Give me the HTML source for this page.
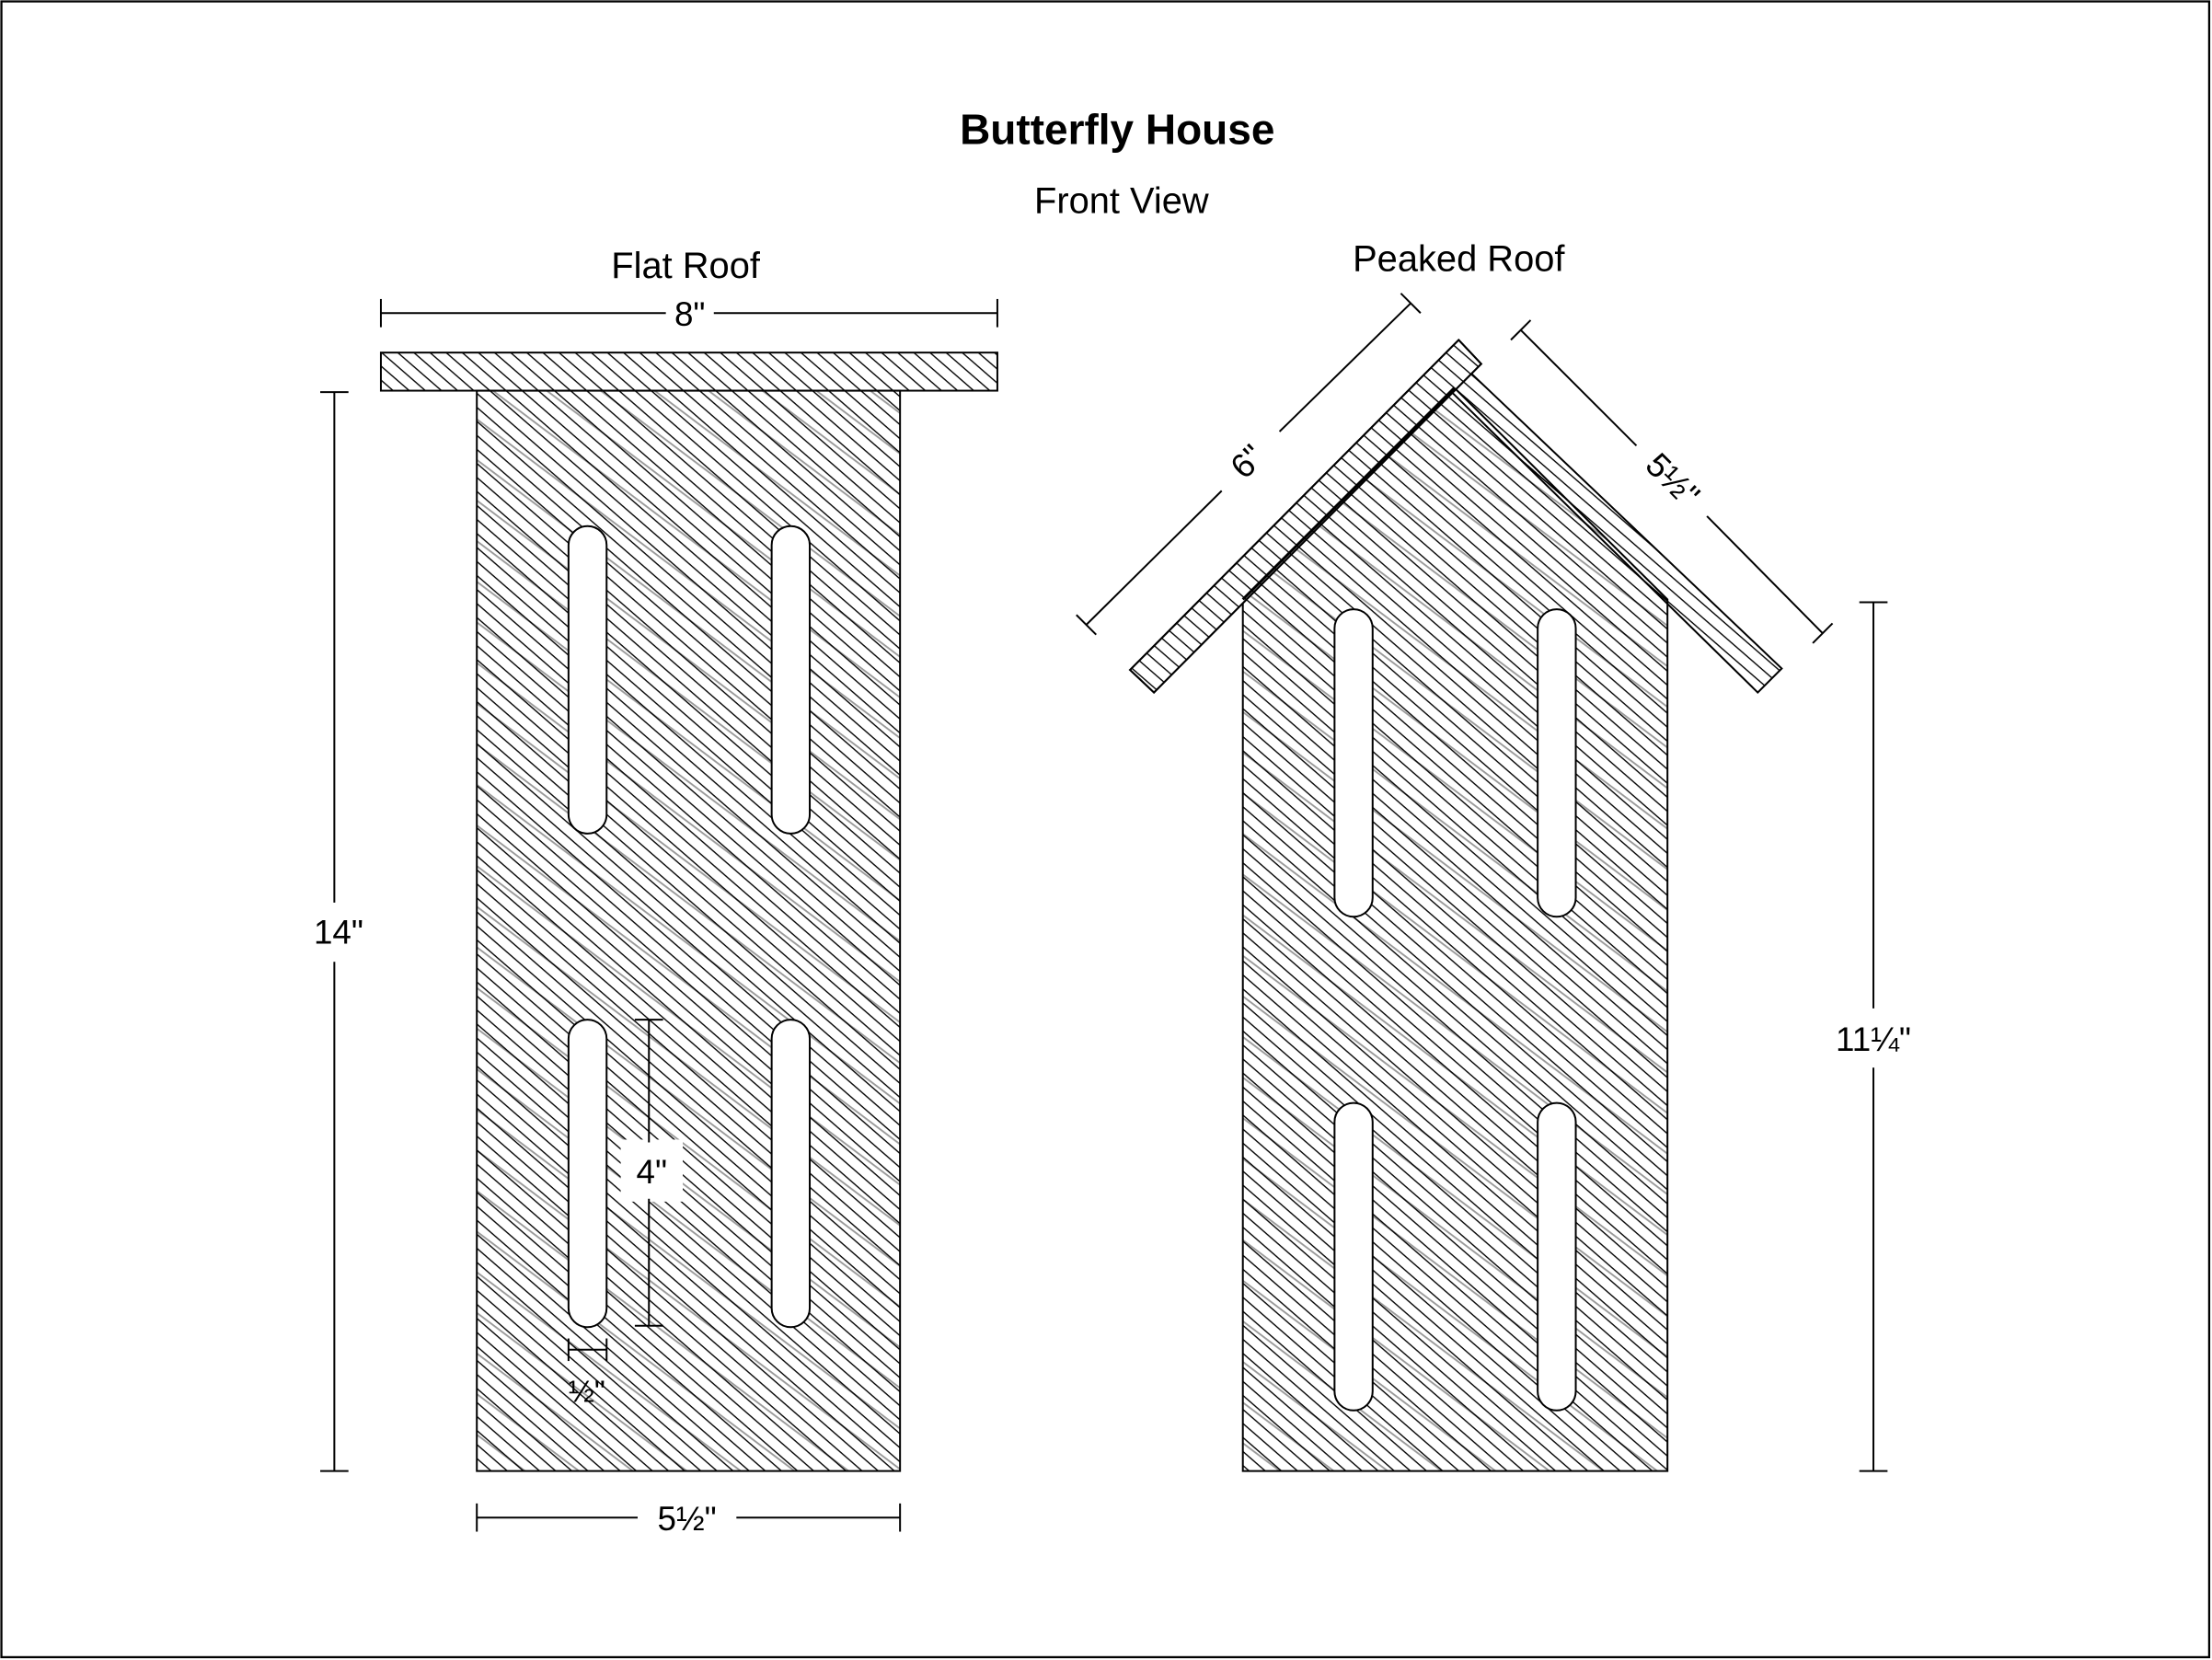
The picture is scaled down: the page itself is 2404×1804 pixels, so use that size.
<!DOCTYPE html>
<html><head><style>
html,body{margin:0;padding:0;background:#fff;}
svg{display:block;}
text{font-family:"Liberation Sans",sans-serif;fill:#000;}
</style></head><body>
<svg width="2404" height="1804" viewBox="0 0 1568 1177" preserveAspectRatio="none" xmlns="http://www.w3.org/2000/svg">
<defs>
<pattern id="h" width="7.5" height="7.5" patternUnits="userSpaceOnUse" patternTransform="rotate(41)">
<line x1="0" y1="3.7" x2="7.5" y2="3.7" stroke="#000" stroke-width="0.9"/>
</pattern>
<pattern id="h2" width="23" height="23" patternUnits="userSpaceOnUse" patternTransform="rotate(37)">
<line x1="0" y1="11" x2="23" y2="11" stroke="#000" stroke-width="1.2"/>
</pattern>
</defs>
<rect x="1" y="1" width="1565" height="1174" fill="#fff" stroke="#000" stroke-width="1.5"/>
<text x="792" y="102" font-size="30" font-weight="bold" text-anchor="middle">Butterfly House</text>
<text x="795" y="151" font-size="26" text-anchor="middle">Front View</text>
<text x="486" y="197" font-size="26" text-anchor="middle">Flat Roof</text>
<text x="1034" y="192" font-size="26" text-anchor="middle">Peaked Roof</text>

<g stroke="#000" stroke-width="1.3" fill="none">
<rect x="270" y="250" width="437" height="27" fill="url(#h)"/>
<rect x="338" y="277" width="300" height="766" fill="url(#h)"/>
<rect x="338" y="277" width="300" height="766" fill="url(#h2)" stroke="none" opacity="0.4"/>
<g fill="#fff">
<rect x="403" y="373" width="27" height="218" rx="13.5"/>
<rect x="547" y="373" width="27" height="218" rx="13.5"/>
<rect x="403" y="723" width="27" height="218" rx="13.5"/>
<rect x="547" y="723" width="27" height="218" rx="13.5"/>
</g>
<line x1="270" y1="222" x2="472" y2="222"/><line x1="506" y1="222" x2="707" y2="222"/>
<line x1="270" y1="212" x2="270" y2="232"/><line x1="707" y1="212" x2="707" y2="232"/>
<line x1="237" y1="278" x2="237" y2="640"/><line x1="237" y1="682" x2="237" y2="1043"/>
<line x1="227" y1="278" x2="247" y2="278"/><line x1="227" y1="1043" x2="247" y2="1043"/>
<line x1="338" y1="1076" x2="452" y2="1076"/><line x1="522" y1="1076" x2="638" y2="1076"/>
<line x1="338" y1="1066" x2="338" y2="1086"/><line x1="638" y1="1066" x2="638" y2="1086"/>
<rect x="440" y="808" width="44" height="44" fill="#fff" stroke="none"/>
<line x1="460" y1="723" x2="460" y2="810"/><line x1="460" y1="850" x2="460" y2="940"/>
<line x1="450" y1="723" x2="470" y2="723"/><line x1="450" y1="940" x2="470" y2="940"/>
<line x1="403" y1="957" x2="430" y2="957"/><line x1="403" y1="949" x2="403" y2="965"/><line x1="430" y1="949" x2="430" y2="965"/>

<polygon points="881,425 1031,275 1182,425 1182,1043 881,1043" fill="url(#h)"/>
<polygon points="881,425 1031,275 1182,425 1182,1043 881,1043" fill="url(#h2)" stroke="none" opacity="0.4"/>
<polygon points="1040,262 1263,474 1246,491 1028,277" fill="url(#h)"/>
<polygon points="801,475 1034,241 1050,258 818,491" fill="#fff"/>
<polygon points="801,475 1034,241 1050,258 818,491" fill="url(#h)"/>
<line x1="1031" y1="275" x2="881" y2="425" stroke-width="2"/>
<g fill="#fff">
<rect x="946" y="432" width="27" height="218" rx="13.5"/>
<rect x="1090" y="432" width="27" height="218" rx="13.5"/>
<rect x="946" y="782" width="27" height="218" rx="13.5"/>
<rect x="1090" y="782" width="27" height="218" rx="13.5"/>
</g>
<line x1="770" y1="443" x2="866" y2="348"/><line x1="907" y1="306" x2="1000" y2="215"/>
<line x1="763" y1="436" x2="777" y2="450"/><line x1="993" y1="208" x2="1007" y2="222"/>
<line x1="1078" y1="234" x2="1160" y2="316"/><line x1="1210" y1="366" x2="1292" y2="449"/>
<line x1="1071" y1="241" x2="1085" y2="227"/><line x1="1285" y1="456" x2="1299" y2="442"/>
<line x1="1328" y1="427" x2="1328" y2="715"/><line x1="1328" y1="757" x2="1328" y2="1043"/>
<line x1="1318" y1="427" x2="1338" y2="427"/><line x1="1318" y1="1043" x2="1338" y2="1043"/>
</g>
<g font-size="24" text-anchor="middle">
<text x="489" y="231">8"</text>
<text x="240" y="669">14"</text>
<text x="487" y="1085">5½"</text>
<text x="462" y="839">4"</text>
<text x="416" y="994" font-size="22">½"</text>
<text x="1328" y="745">11¼"</text>
<text x="0" y="0" transform="translate(890,333) rotate(-45)">6"</text>
<text x="0" y="0" transform="translate(1180,346) rotate(45)">5½"</text>
</g>
</svg>
</body></html>
